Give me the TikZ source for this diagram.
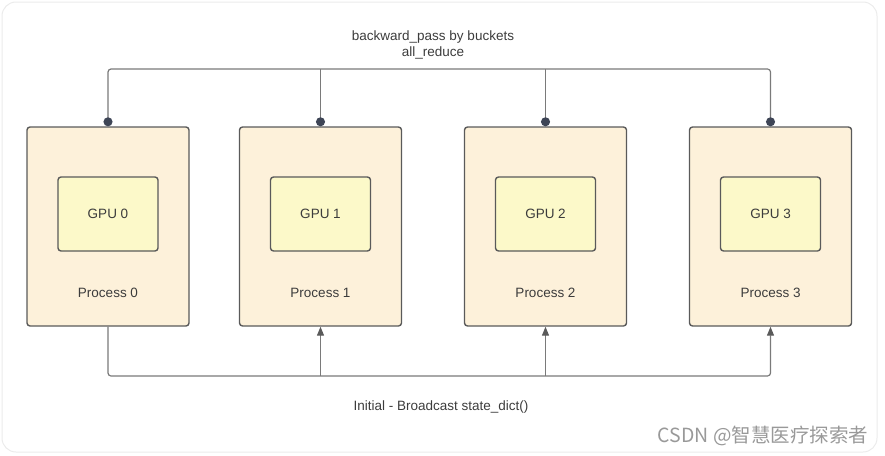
\documentclass[tikz,border=0pt]{standalone}
\usepackage{fontspec}
\setmainfont{Liberation Sans}
\newfontfamily\cjkfont{Noto Sans CJK SC}
\usetikzlibrary{arrows.meta}

\definecolor{procfill}{HTML}{FDF1DA}
\definecolor{gpufill}{HTML}{FCF9C9}
\definecolor{boxline}{HTML}{5A5A5A}
\definecolor{wireline}{HTML}{7A7A7A}
\definecolor{dotcol}{HTML}{3E4556}
\definecolor{txtcol}{HTML}{3C3C3C}

\begin{document}
\begin{tikzpicture}[x=1pt,y=-1pt]
		\tikzset{procbox/.style = {draw=boxline, fill=procfill, line width=1.4pt, rounded corners=3pt,
				minimum width=162pt, minimum height=199pt, inner sep=0pt}}
		\tikzset{gpubox/.style = {draw=boxline, fill=gpufill, line width=1.4pt, rounded corners=3pt,
				minimum width=100pt, minimum height=74pt, inner sep=0pt,
				font=\fontsize{13.5}{16}\selectfont, text=txtcol}}
		\tikzset{label/.style = {font=\fontsize{13.5}{16}\selectfont, text=txtcol, inner sep=0pt}}
		\tikzset{wire/.style = {draw=wireline, line width=1.2pt, rounded corners=3pt}}
		\tikzset{dotwire/.style = {wire, {Circle[length=9pt,color=dotcol]}-{Circle[length=9pt,color=dotcol]}}}
		\tikzset{edge/.style = {wire, -{Triangle[length=9pt,width=7pt,color=boxline]}}}
		
		% frame
		\useasboundingbox (0,0) rectangle (885,455);
		\draw[black!8, line width=1pt, rounded corners=14pt] (2,2) rectangle (877,452);
		
		\node[procbox] (p0) at ( 108, 226.5) {};
		\node[procbox] (p1) at ( 320.5, 226.5) {};
		\node[procbox] (p2) at ( 545.5, 226.5) {};
		\node[procbox] (p3) at ( 770.5, 226.5) {};
		
		\node[gpubox] (g0) at ( 108, 214) {GPU 0};
		\node[gpubox] (g1) at ( 320.5, 214) {GPU 1};
		\node[gpubox] (g2) at ( 545.5, 214) {GPU 2};
		\node[gpubox] (g3) at ( 770.5, 214) {GPU 3};
		
		\node[label] (l0) at ( 108, 293) {Process 0};
		\node[label] (l1) at ( 320.5, 293) {Process 1};
		\node[label] (l2) at ( 545.5, 293) {Process 2};
		\node[label] (l3) at ( 770.5, 293) {Process 3};
		
		\node[label, align=center] (reduce) at ( 433, 45) {backward\_pass by buckets\\all\_reduce};
		\node[label] (bcast) at ( 441, 407) {Initial - Broadcast state\_dict()};
		
		\coordinate (top) at ( 433, 69);
		\coordinate (bot) at ( 433, 376);
		
		% all_reduce bus
		\draw[dotwire] (p0.north) |- (top) -| (p3.north);
		\draw[wire, -{Circle[length=9pt,color=dotcol]}] (p1.north |- top) -- (p1.north);
		\draw[wire, -{Circle[length=9pt,color=dotcol]}] (p2.north |- top) -- (p2.north);
		
		% broadcast bus
		\draw[edge] (p0.south) |- (bot) -| (p3.south);
		\draw[edge] (p1.south |- bot) -- (p1.south);
		\draw[edge] (p2.south |- bot) -- (p2.south);
		
		\node[text=black!40, font=\cjkfont\fontsize{19.5}{21}\selectfont, inner sep=0pt] (mark) at ( 763, 436) {CSDN @智慧医疗探索者};
\end{tikzpicture}
\end{document}
